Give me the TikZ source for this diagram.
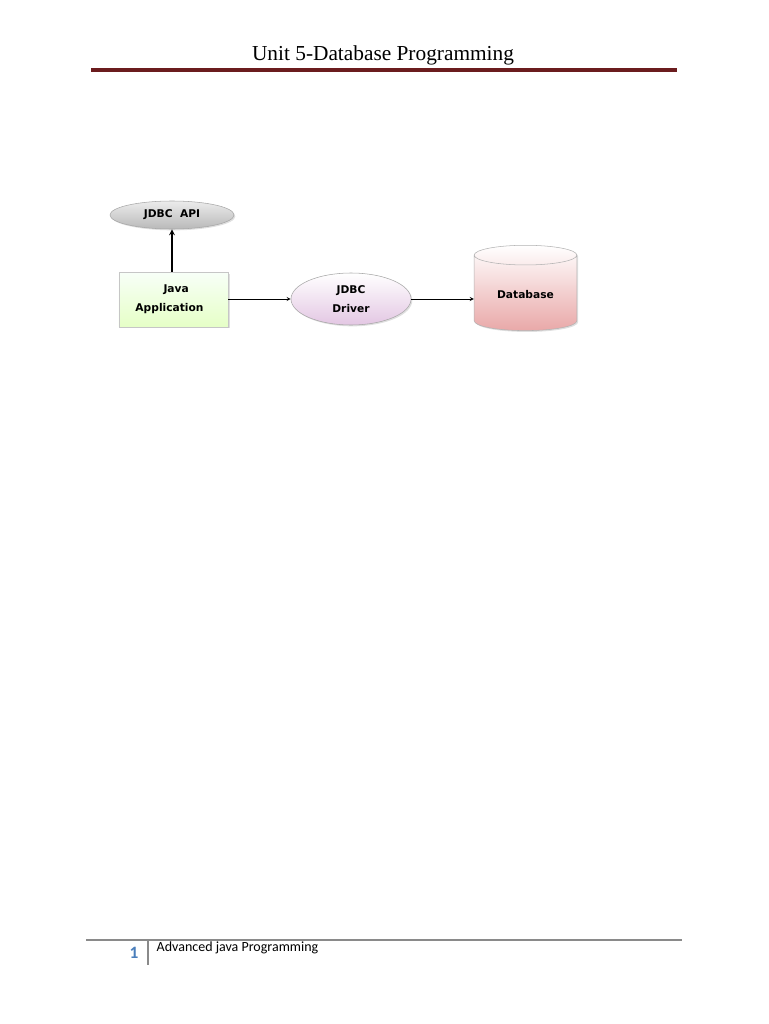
\documentclass[tikz,border=0pt]{standalone}
\usepackage{fontspec}
\setmainfont{Liberation Serif}
\setsansfont{DejaVu Sans}
\newfontfamily\footfont{Carlito}
\usepackage{xcolor}
\usetikzlibrary{shapes.geometric, positioning, arrows, shadows}
\definecolor{headred}{HTML}{6B1C1E}
\definecolor{footgray}{HTML}{8A8A8A}
\definecolor{pagenum}{HTML}{4A7EBB}
\definecolor{dbpink}{HTML}{E9A8A8}
\tikzset{
	>=stealth,
	every node/.style={font=\sffamily\bfseries\fontsize{8}{9.5}\selectfont, align=center},
	blob/.style={ellipse, draw=gray!70, drop shadow={opacity=0.25, shadow xshift=1pt, shadow yshift=-1pt}},
	apibox/.style={blob, minimum width=93pt, minimum height=21pt, top color=gray!15, bottom color=gray!55},
	appbox/.style={rectangle, draw=gray!45, minimum width=82pt, minimum height=41pt, top color=green!3!white, bottom color=green!45!yellow!22, drop shadow={opacity=0.25, shadow xshift=1pt, shadow yshift=-1pt}},
	drvbox/.style={blob, minimum width=90pt, minimum height=39pt, top color=white, bottom color=violet!22},
	dbbox/.style={cylinder, shape border rotate=90, aspect=0.3, draw=gray!60, minimum width=77pt, minimum height=64pt, top color=white, bottom color=dbpink, drop shadow={opacity=0.25, shadow xshift=1pt, shadow yshift=-1pt}},
	flow/.style={->, thin, black}
}

\begin{document}
\begin{tikzpicture}[x=0.75pt, y=-0.75pt]
	\useasboundingbox (0,0) rectangle (768,1024);

%	page header
	\node[font=\rmfamily\fontsize{16}{19}\selectfont] (title) at (383,55) {Unit 5-Database Programming};
	\draw[headred, line width=3pt] (91,70) -- (677,70);

%	diagram
	\node[apibox]  (api) at (172,215) {JDBC\ \ API};
	\node[appbox]  (app) at (173.5,299.5) {\hspace*{4pt}Java\\[5pt]Application\hspace*{6pt}};
	\node[drvbox]  (drv) at (351,299) {JDBC\\[5pt]Driver};
	\node[dbbox]   (db)  at (525.5,295) {Database};

	\draw
	(app.north -| api.south) edge[flow, line width=1pt] (api.south)
	(drv.west -| app.east) edge[flow] (drv.west)
	(drv.east) edge[flow] (drv.east -| db.west)
	;

%	page footer
	\draw[footgray, line width=1.5pt] (86,940) -- (682,940);
	\draw[footgray, line width=1.5pt] (148,940) -- (148,965);
	\node[font=\footfont\bfseries\fontsize{13}{15}\selectfont, text=pagenum] (pg) at (134,953) {1};
	\node[font=\footfont\fontsize{10.5}{12}\selectfont, anchor=west] (foot) at (152,948) {Advanced java Programming};
\end{tikzpicture}
\end{document}
